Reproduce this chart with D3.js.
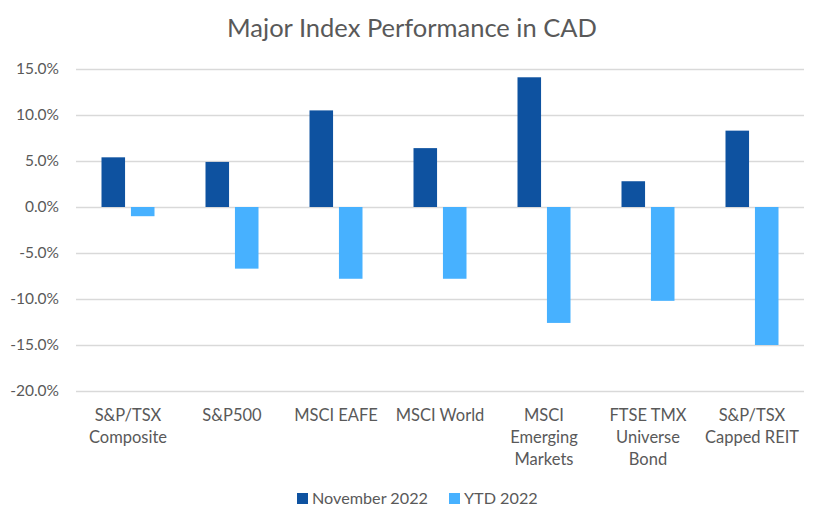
<!DOCTYPE html>
<html>
<head>
<meta charset="utf-8">
<script src="https://cdn.jsdelivr.net/npm/d3@7"></script>
<style>
  body { margin: 0; background: #fff; }
  text { font-family: Lato, "Open Sans", sans-serif; fill: #595959; }
</style>
</head>
<body>
<svg></svg>
<script>
const width = 820;
const height = 523;

// DATA
const categories = [
  ['S&P/TSX', 'Composite'],
  ['S&P500'],
  ['MSCI EAFE'],
  ['MSCI World'],
  ['MSCI', 'Emerging', 'Markets'],
  ['FTSE TMX', 'Universe', 'Bond'],
  ['S&P/TSX', 'Capped REIT']
];
const seriesNames = ['November 2022', 'YTD 2022'];
const november = [5.4, 4.9, 10.5, 6.4, 14.1, 2.8, 8.3];
const ytd = [-1.0, -6.7, -7.8, -7.8, -12.6, -10.2, -15.0];
const yTicks = [-20, -15, -10, -5, 0, 5, 10, 15];
const colors = ['#0E52A0', '#47B1FF'];

const margin = {top: 69, right: 16, bottom: 132, left: 76};

// SCALES
const xScale = d3.scaleBand()
                 .domain(d3.range(categories.length))
                 .range([margin.left, width - margin.right]);
const innerScale = d3.scaleBand()
                     .domain(d3.range(seriesNames.length))
                     .range([xScale.bandwidth() / 2 - 26.5, xScale.bandwidth() / 2 + 26.5])
                     .paddingInner(0.2);
const yScale = d3.scaleLinear()
                 .domain([-20, 15])
                 .range([height - margin.bottom, margin.top]);

const svg = d3.select('svg')
              .attr('width', width)
              .attr('height', height);

// GRID
const yAxis = d3.axisLeft(yScale)
                .tickValues(yTicks)
                .tickSize(-(width - margin.left - margin.right))
                .tickFormat(d => d.toFixed(1) + '%')
                .tickPadding(17);

svg.append('g')
   .attr('transform', `translate(${margin.left}, 0)`)
   .call(yAxis)
   .call(g => g.select('.domain').remove())
   .call(g => g.selectAll('line').attr('stroke', '#D9D9D9').attr('stroke-width', 1.3))
   .call(g => g.selectAll('text').style('font-size', '15.5px'));

// BARS
const rows = categories.map((c, i) => [november[i], ytd[i]]);
const groups = svg.append('g')
  .selectAll('g')
  .data(rows)
  .enter()
  .append('g')
    .attr('transform', (d, i) => `translate(${xScale(i)}, 0)`);

groups.selectAll('rect')
  .data(d => d)
  .enter()
  .append('rect')
    .attr('x', (d, j) => innerScale(j))
    .attr('width', innerScale.bandwidth())
    .attr('y', d => yScale(Math.max(0, d)))
    .attr('height', d => Math.abs(yScale(d) - yScale(0)))
    .attr('fill', (d, j) => colors[j]);

// CATEGORY LABELS
const labels = svg.append('g')
  .selectAll('text')
  .data(categories)
  .enter()
  .append('text')
    .attr('x', (d, i) => xScale(i) + xScale.bandwidth() / 2)
    .attr('y', 421)
    .style('text-anchor', 'middle')
    .style('font-size', '16.5px');

labels.selectAll('tspan')
  .data(d => d)
  .enter()
  .append('tspan')
    .attr('x', function() { return this.parentNode.getAttribute('x'); })
    .attr('dy', (d, k) => k === 0 ? 0 : 22)
    .text(d => d);

// TITLE
svg.append('text')
   .attr('x', 412)
   .attr('y', 37)
   .style('text-anchor', 'middle')
   .style('font-size', '25.5px')
   .text('Major Index Performance in CAD');

// LEGEND
const legendX = [297, 449];
const legend = svg.append('g')
  .selectAll('g')
  .data(seriesNames)
  .enter()
  .append('g')
    .attr('transform', (d, i) => `translate(${legendX[i]}, 504)`);

legend.append('rect')
  .attr('x', 0)
  .attr('y', -11)
  .attr('width', 11)
  .attr('height', 11)
  .attr('fill', (d, i) => colors[i]);

legend.append('text')
  .attr('x', 15)
  .attr('y', 0)
  .style('font-size', '16.2px')
  .text(d => d);
</script>
</body>
</html>
